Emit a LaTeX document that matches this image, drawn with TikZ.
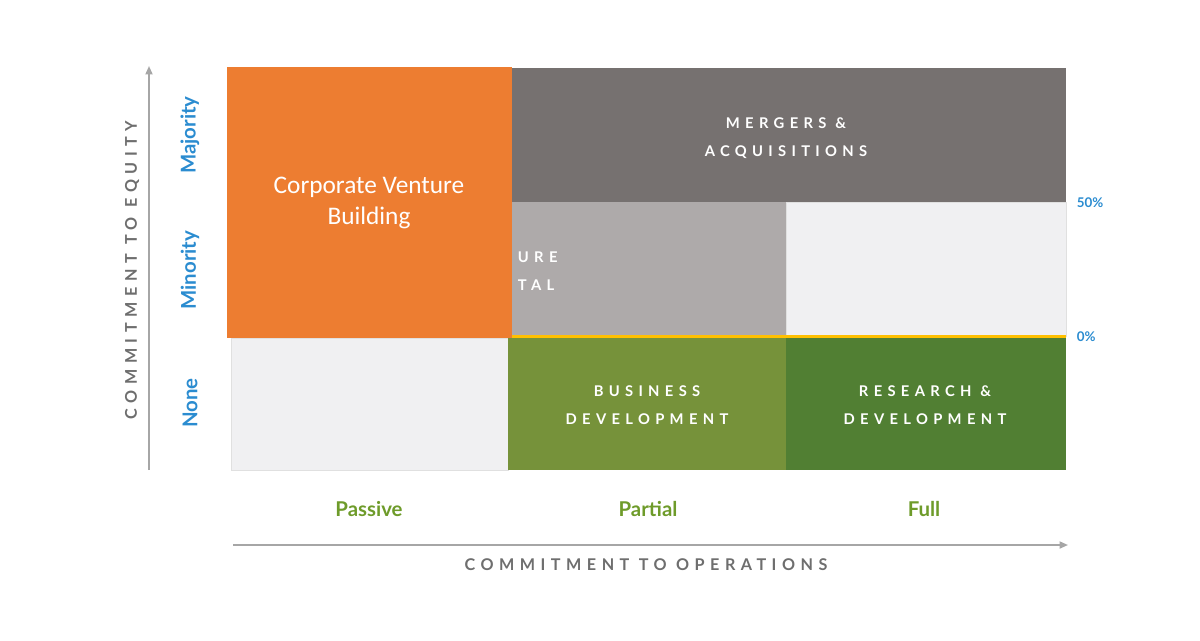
\documentclass[tikz,border=0pt]{standalone}
\usepackage{fontspec}
\setmainfont{Lato}
\newfontfamily\spaced[LetterSpace=36]{Lato}
\newfontfamily\widespaced[LetterSpace=34]{Lato}
\newfontfamily\calib{Carlito}
\usetikzlibrary{arrows.meta}

\definecolor{cvborange}{HTML}{ED7D31}
\definecolor{mnagray}{HTML}{767170}
\definecolor{vcgray}{HTML}{AEAAAA}
\definecolor{emptycell}{HTML}{F0F0F2}
\definecolor{bdgreen}{HTML}{76923A}
\definecolor{rdgreen}{HTML}{517F33}
\definecolor{zeroline}{HTML}{FFC000}
\definecolor{levelblue}{HTML}{2B8CD0}
\definecolor{levelgreen}{HTML}{6E9B2A}
\definecolor{axisgray}{HTML}{A6A6A6}
\definecolor{titlegray}{HTML}{6E6E6E}

\tikzset{
  celltext/.style={text=white, font=\spaced\bfseries\fontsize{10.5}{20}\selectfont, align=center},
  level/.style={font=\bfseries\fontsize{14.5}{16}\selectfont},
  axistitle/.style={text=titlegray, font=\widespaced\bfseries\fontsize{11.5}{14}\selectfont},
  pct/.style={text=levelblue, font=\bfseries\fontsize{9.5}{11}\selectfont},
  axisline/.style={axisgray, line width=1.2pt, -{Triangle[length=6pt,width=5pt]}}
}

\begin{document}
\begin{tikzpicture}[x=0.025cm, y=-0.025cm]
\useasboundingbox (0,0) rectangle (1200,640);

% Draw cells
\fill[emptycell, draw=black!12] (231,338) rectangle (508,470);
\fill[emptycell, draw=black!12] (786,202) rectangle (1066,336);
\fill[mnagray] (512,68) rectangle (1066,202);
\fill[vcgray] (512,202) rectangle (786,336);
\fill[bdgreen] (508,338) rectangle (786,470);
\fill[rdgreen] (786,338) rectangle (1066,470);
\draw[zeroline, line width=1.5pt] (508,336.5) -- (1066,336.5);
\fill[cvborange] (227,67) rectangle (512,338);

% Cell labels
\node[celltext] (mna) at (786,138) {MERGERS \&\\ACQUISITIONS};
\node[celltext, anchor=west, align=left] (vc) at (513,271) {URE\\TAL};
\node[celltext] (bd) at (647,405) {BUSINESS\\DEVELOPMENT};
\node[celltext] (rd) at (925,405) {RESEARCH \&\\DEVELOPMENT};
\node[text=white, align=center, font=\calib\fontsize{18}{22}\selectfont] (cvb) at (369,203) {Corporate Venture\\Building};

% Draw axes
\coordinate (ybot) at (149,470);
\coordinate (ytop) at (149,66);
\coordinate (xleft) at (233,545);
\coordinate (xright) at (1068,545);
\draw[axisline] (ybot) -- (ytop);
\draw[axisline] (xleft) -- (xright);
\node[axistitle, rotate=90] (equity) at (132,270) {COMMITMENT TO EQUITY};
\node[axistitle] (operations) at (646,565) {COMMITMENT TO OPERATIONS};

% Levels
\node[level, text=levelblue, rotate=90] (majority) at (190,135) {Majority};
\node[level, text=levelblue, rotate=90] (minority) at (190,270) {Minority};
\node[level, text=levelblue, rotate=90] (none) at (190,403) {None};
\node[level, text=levelgreen] (passive) at (369,509) {Passive};
\node[level, text=levelgreen] (partial) at (648,509) {Partial};
\node[level, text=levelgreen] (full) at (924,509) {Full};
\node[pct, anchor=west] (fifty) at (1072,203) {50\%};
\node[pct, anchor=west] (zero) at (1072,337) {0\%};
\end{tikzpicture}
\end{document}
